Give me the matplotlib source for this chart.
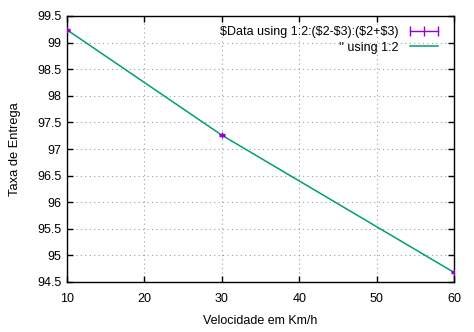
import matplotlib.pyplot as plt
from matplotlib.lines import Line2D

plt.rcParams['font.family'] = ['Liberation Sans', 'DejaVu Sans']

# delivery rate vs speed
speed = [10, 30, 60]
rate = [99.24, 97.26, 94.68]
rate_err = [0.02, 0.02, 0.02]

x_ticks = [10, 20, 30, 40, 50, 60]
y_ticks = [94.5, 95, 95.5, 96, 96.5, 97, 97.5, 98, 98.5, 99, 99.5]

purple = '#9400d3'
teal = '#009e73'

fig = plt.figure(figsize=(4.74, 3.32), dpi=100)
ax = fig.add_axes([67 / 474, 50 / 332, 387 / 474, 266 / 332])

ax.errorbar(speed, rate, yerr=rate_err, fmt='+', color=purple,
            markersize=5, capsize=2, elinewidth=1, zorder=3)
ax.plot(speed, rate, color=teal, linewidth=1.1, zorder=2)

ax.set_xlim(10, 60)
ax.set_ylim(94.5, 99.5)
ax.set_xticks(x_ticks)
ax.set_yticks(y_ticks)
ax.set_yticklabels(['94.5', '95', '95.5', '96', '96.5', '97', '97.5',
                    '98', '98.5', '99', '99.5'])

ax.grid(True, color='#a0a0a0', linestyle=(0, (1, 3)), linewidth=0.8)
ax.tick_params(direction='in', top=True, right=True, length=4,
               width=1, labelsize=9, colors='black')
ax.tick_params(axis='x', pad=8)
ax.tick_params(axis='y', pad=4)
for s in ax.spines.values():
    s.set_linewidth(1.0)

ax.set_xlabel('Velocidade em Km/h', fontsize=9, labelpad=7)
ax.set_ylabel('Taxa de Entrega', fontsize=9.3, labelpad=12)

handles = [
    Line2D([0], [0], color=purple, marker='|', markersize=7, linewidth=1),
    Line2D([0], [0], color=teal, linewidth=1.1),
]
labels = [r'\$Data using 1:2:(\$2-\$3):(\$2+\$3)', "'' using 1:2"]
ax.legend(handles, labels, loc='upper right', markerfirst=False,
          frameon=False, numpoints=3, handlelength=2.9, handletextpad=0.6,
          labelspacing=0.3, fontsize=9,
          bbox_to_anchor=(442 / 474, 1 - 26 / 332),
          bbox_transform=fig.transFigure, borderaxespad=0, borderpad=0)

fig.savefig('out.png', dpi=100)
